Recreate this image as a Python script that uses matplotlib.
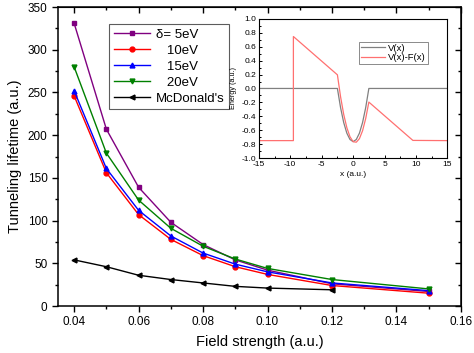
import matplotlib
matplotlib.use("Agg")
import matplotlib.pyplot as plt
from matplotlib.ticker import MultipleLocator

plt.rcParams['font.family'] = ['Liberation Sans', 'DejaVu Sans']

# main chart data
field = [0.04, 0.05, 0.06, 0.07, 0.08, 0.09, 0.10, 0.12, 0.15]
life_5ev = [331, 207, 139, 98, 72, 54, 42, 26, 17]
life_10ev = [246, 156, 107, 78, 59, 46, 37, 24, 15]
life_15ev = [252, 161, 112, 82, 62, 49, 40, 27, 18]
life_20ev = [280, 179, 124, 91, 70, 55, 44, 31, 20]
field_mcd = [0.04, 0.05, 0.06, 0.07, 0.08, 0.09, 0.10, 0.12]
life_mcd = [54, 46, 36, 31, 27, 23, 21, 19]

# inset data
x_v = [-15, -2.5, -2.5, -2.0, -1.5, -1.0, -0.5, 0.0, 0.5, 1.0, 1.5, 2.0, 2.5, 2.5, 15]
v = [0, 0, 0, -0.275, -0.49, -0.643, -0.734, -0.765, -0.734, -0.643, -0.49, -0.275, 0, 0, 0]
x_vf = [-15, -9.5, -9.5, -2.5, -2.0, -1.5, -1.0, -0.5, 0.0, 0.5, 1.0, 1.5, 2.0, 2.5, 9.5, 15]
vf = [-0.75, -0.75, 0.747, 0.196, -0.118, -0.372, -0.564, -0.695, -0.765, -0.773,
      -0.722, -0.608, -0.432, -0.196, -0.747, -0.75]

fig = plt.figure(figsize=(4.74, 3.53), dpi=100)
ax = fig.add_axes([0.1224, 0.1331, 0.850, 0.847])

ax.plot(field, life_5ev, color='#800080', marker='s', ms=3.5, lw=1, label='δ= 5eV')
ax.plot(field, life_10ev, color='#ff0000', marker='o', ms=3.5, lw=1, label='   10eV')
ax.plot(field, life_15ev, color='#0000ff', marker='^', ms=3.5, lw=1, label='   15eV')
ax.plot(field, life_20ev, color='#008000', marker='v', ms=3.5, lw=1, label='   20eV')
ax.plot(field_mcd, life_mcd, color='#000000', marker='<', ms=3.5, lw=1, label="McDonald's")

ax.set_xlim(0.035, 0.16)
ax.set_ylim(0, 350)
ax.xaxis.set_major_locator(MultipleLocator(0.02))
ax.xaxis.set_minor_locator(MultipleLocator(0.01))
ax.yaxis.set_major_locator(MultipleLocator(50))
ax.yaxis.set_minor_locator(MultipleLocator(25))
ax.set_xticks([0.04, 0.06, 0.08, 0.10, 0.12, 0.14, 0.16])
ax.set_xticklabels(['0.04', '0.06', '0.08', '0.10', '0.12', '0.14', '0.16'])
ax.tick_params(which='both', direction='out', labelsize=8.5, width=1)
ax.tick_params(which='major', length=4)
ax.tick_params(which='minor', length=2.5)
for s in ax.spines.values():
    s.set_linewidth(1.1)

# mirrored ticks on top and right, pointing inward
top = ax.secondary_xaxis('top')
top.xaxis.set_major_locator(MultipleLocator(0.02))
top.xaxis.set_minor_locator(MultipleLocator(0.01))
top.tick_params(which='both', direction='in', labeltop=False, width=1)
top.tick_params(which='major', length=4)
top.tick_params(which='minor', length=2.5)
right = ax.secondary_yaxis('right')
right.yaxis.set_major_locator(MultipleLocator(50))
right.yaxis.set_minor_locator(MultipleLocator(25))
right.tick_params(which='both', direction='in', labelright=False, width=1)
right.tick_params(which='major', length=4)
right.tick_params(which='minor', length=2.5)

ax.set_xlabel('Field strength (a.u.)', fontsize=10.5, labelpad=5)
ax.set_ylabel('Tunneling lifetime (a.u.)', fontsize=10.5, labelpad=4)

leg = ax.legend(loc='upper left', bbox_to_anchor=(0.11, 0.965), fontsize=9.5,
                handlelength=2.8, labelspacing=0.28, borderpad=0.35,
                handletextpad=0.4, fancybox=False, edgecolor='#333333')
leg.get_frame().set_linewidth(0.8)

# inset
ins = fig.add_axes([0.546, 0.5524, 0.398, 0.394])
ins.plot(x_v, v, color='#808080', lw=0.9, label='V(x)')
ins.plot(x_vf, vf, color='#ff7070', lw=0.9, label='V(x)-F(x)')
ins.set_xlim(-15, 15)
ins.set_ylim(-1.0, 1.0)
ins.xaxis.set_major_locator(MultipleLocator(5))
ins.xaxis.set_minor_locator(MultipleLocator(2.5))
ins.yaxis.set_major_locator(MultipleLocator(0.2))
ins.yaxis.set_minor_locator(MultipleLocator(0.1))
ins.tick_params(which='both', direction='in', labelsize=6, width=0.7, pad=2)
ins.tick_params(which='major', length=2.5)
ins.tick_params(which='minor', length=1.5)
ins.set_yticks([-1.0, -0.8, -0.6, -0.4, -0.2, 0.0, 0.2, 0.4, 0.6, 0.8, 1.0])
ins.set_yticklabels(['-1.0', '-0.8', '-0.6', '-0.4', '-0.2', '0.0', '0.2', '0.4', '0.6', '0.8', '1.0'])
ins.set_xticks([-15, -10, -5, 0, 5, 10, 15])
ins.set_xticklabels(['-15', '-10', '-5', '0', '5', '10', '15'])
for s in ins.spines.values():
    s.set_linewidth(0.8)
ins.set_xlabel('x (a.u.)', fontsize=6, labelpad=2)
ins.set_ylabel('Energy (a.u.)', fontsize=5.2, labelpad=3)
ileg = ins.legend(loc='upper right', bbox_to_anchor=(0.92, 0.87), fontsize=6.8,
                  handlelength=2.6, labelspacing=0.05, borderpad=0.2,
                  handletextpad=0.3, fancybox=False, edgecolor='#555555')
ileg.get_frame().set_linewidth(0.6)

fig.savefig('out.png', dpi=100)
